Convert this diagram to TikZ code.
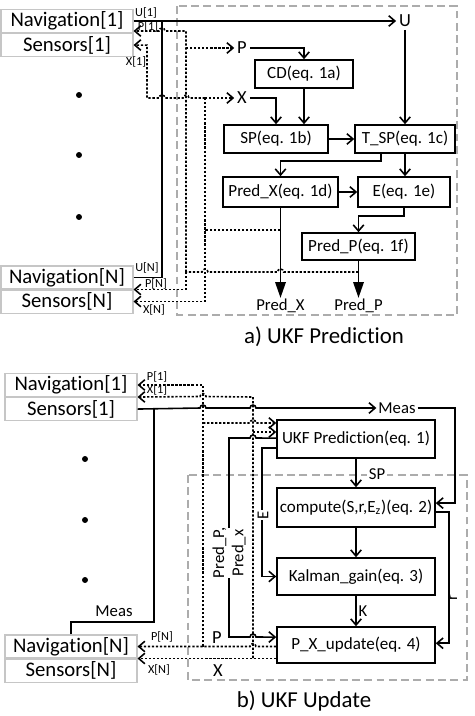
\documentclass[tikz,border=0pt]{standalone}
\usepackage{fontspec}
\setmainfont{Carlito}[Ligatures=NoCommon]
\usetikzlibrary{positioning}
\usetikzlibrary{arrows.meta}

% small hop over a crossing line
\newcommand{\hopR}{arc[start angle=180,end angle=0,radius=1.7pt]}
\newcommand{\hopL}{arc[start angle=0,end angle=180,radius=1.7pt]}

\tikzset{
  blk/.style={draw, line width=0.9pt, minimum height=0.56cm, inner sep=1pt, font=\fontsize{9.7}{11}\selectfont},
  navbox/.style={draw=gray!45, line width=0.6pt, minimum width=2.64cm, minimum height=0.46cm, inner sep=0pt, font=\fontsize{11.8}{13}\selectfont},
  ln/.style={line width=0.9pt},
  arr/.style={ln, -{Straight Barb[length=3.5pt,width=6pt]}},
  big/.style={ln, -{Triangle[length=9pt,width=6pt]}},
  fb/.style={line width=0.9pt, dash pattern=on 1.3pt off 1pt},
  fbarr/.style={fb, -{Straight Barb[length=3.5pt,width=6pt]}},
  frame/.style={draw=gray!65, line width=0.6pt, dash pattern=on 4.5pt off 2.5pt},
  tag/.style={font=\fontsize{7}{8}\selectfont, inner sep=0.5pt},
  lbl/.style={font=\fontsize{9.5}{11}\selectfont, inner sep=1pt},
  sig/.style={font=\fontsize{10.5}{12}\selectfont, inner sep=1.5pt},
  dot/.style={circle, fill, inner sep=0pt, minimum size=3.4pt},
}

\begin{document}
\begin{tikzpicture}[x=0.02cm,y=0.02cm]
\useasboundingbox (0,0) rectangle (474,-716);

%%% a) UKF prediction
\draw[frame] (177,-6) rectangle (457,-315);
\node[navbox] (nav1) at (67,-21) {Navigation[1]};
\node[navbox, below=0pt of nav1] (sen1) {Sensors[1]};
\node[navbox] (navN) at (67,-277.5) {Navigation[N]};
\node[navbox, below=0pt of navN] (senN) {Sensors[N]};
\node[dot] (da1) at (79,-95) {};
\node[dot] (da2) at (79,-155) {};
\node[dot] (da3) at (79,-217) {};

\node[sig] (ua) at (405,-21) {U};
\node[sig] (pa) at (242,-48) {P};
\node[sig] (xa) at (242,-98) {X};
\node[blk, minimum width=1.96cm] (cd) at (304,-74) {CD(eq. 1a)};
\node[blk, minimum width=2.08cm] (sp) at (276,-139) {SP(eq. 1b)};
\node[blk, minimum width=2cm] (tsp) at (405,-139) {T\_SP(eq. 1c)};
\node[blk, minimum width=2.3cm, minimum height=0.6cm] (predx) at (280.5,-192) {Pred\_X(eq. 1d)};
\node[blk, minimum width=1.84cm, minimum height=0.6cm] (e) at (404,-192) {E(eq. 1e)};
\node[blk, minimum width=2.26cm, minimum height=0.54cm] (predp) at (358.5,-246.5) {Pred\_P(eq. 1f)};
\node[lbl, inner sep=0.5pt] (outx) at (280.5,-306) {Pred\_X};
\node[lbl, inner sep=0.5pt] (outp) at (358.5,-306) {Pred\_P};
\node[font=\fontsize{13}{15}\selectfont] (capa) at (324,-337) {a) UKF Prediction};

% U
\coordinate (uj) at (162,-21);
\draw[arr] (nav1.east) -- (ua.west);
\draw[ln] (navN.east) -| (uj);
\draw[arr] (ua.south) -- (tsp.north);
% blocks
\draw[arr] (pa.east) -| (cd.north);
\draw[arr] (xa.east) -| (sp.north);
\draw[arr] (cd.south) -- (cd.south |- sp.north);
\draw[arr] (sp) -- (tsp);
\draw[arr] ([xshift=-0.48cm]tsp.south) -- ++(0,-7) -| (predx.north);
\draw[arr] (tsp.south) -- (tsp.south |- e.north);
\draw[arr] (predx) -- (e);
\draw[arr] (e.south) -- ++(0,-8) -| (predp.north);
\draw[big] (predx.south) -- (outx.north);
\draw[big] (predp.south) -- (outp.north);

% feedback P
\coordinate (pj) at (186,-272);
\draw[fb] (predp.south |- pj) -- (283.5,-272) \hopL -- (208,-272) \hopL -- (pj);
\draw[fbarr] (pj) -- (186,-31) -- (165,-31) \hopL -- (nav1.east |- 0,-31);
\draw[fbarr] (pa.west -| pj) -- (pa.west);
\draw[fbarr] (pj) |- (navN.south east);
% feedback X
\coordinate (xj) at (205,-98);
\draw[fb] (predx.south |- 0,-230) -- (xj |- 0,-230);
\draw[fbarr] (xj) -- (xj |- senN.east) -- (senN.east);
\draw[fbarr] (xj) -- (189,-98) \hopL -- (165,-98) \hopL -- (147,-98) |- (sen1.east);
\draw[fbarr] (xj) -- (xa.west);

\node[tag] (tu1) at (146,-13) {U[1]};
\node[tag] (tp1) at (148,-27) {P[1]};
\node[tag] (tx1) at (136,-62) {X[1]};
\node[tag] (tuN) at (147,-268) {U[N]};
\node[tag] (tpN) at (156,-284) {P[N]};
\node[tag] (txN) at (154,-310) {X[N]};

%%% b) UKF update
\draw[frame] (188,-475) rectangle (467,-680);
\node[navbox] (nav1b) at (71,-385) {Navigation[1]};
\node[navbox, below=0pt of nav1b] (sen1b) {Sensors[1]};
\node[navbox] (navNb) at (71,-646.5) {Navigation[N]};
\node[navbox, below=0pt of navNb] (senNb) {Sensors[N]};
\node[dot] (db1) at (85,-459) {};
\node[dot] (db2) at (85,-520) {};
\node[dot] (db3) at (85,-580) {};

\node[blk, minimum width=3.16cm, minimum height=0.76cm] (ukf) at (356,-439) {UKF Prediction(eq. 1)};
\node[blk, minimum width=3.16cm, minimum height=0.78cm] (comp) at (356,-507.5) {compute(S,r,E\textsubscript{z})(eq. 2)};
\node[blk, minimum width=3.16cm, minimum height=0.74cm] (kal) at (356,-576.5) {Kalman\_gain(eq. 3)};
\node[blk, minimum width=3.16cm, minimum height=0.72cm] (upd) at (356,-645) {P\_X\_update(eq. 4)};
\node[lbl] (measb) at (397,-408) {Meas};
\node[lbl] (measn) at (114,-611) {Meas};
\node[font=\fontsize{13}{15}\selectfont] (capb) at (304,-701) {b) UKF Update};

% chain
\draw[arr] (ukf.south) -- (comp.north);
\node[lbl, fill=white] (spl) at (377,-474) {SP};
\draw[arr] (comp) -- (kal);
\draw[arr] (kal) -- (upd) node[midway, right, lbl] (kl) {K};
% measurements
\coordinate (mj) at (154,-408);
\draw[arr] (sen1b.east) -- (200,-408) \hopR -- (250,-408) \hopR -- (measb.west);
\draw[ln] (navNb.north) |- (mj |- 0,-622) -- (mj);
\draw[arr] (measb.east) -- (455,-408) |- ([yshift=2.5pt]comp.east);
\draw[arr] ([yshift=-2.5pt]comp.east) -- ++(13,0) |- ([yshift=1pt]upd.east);
\node[lbl, rotate=90] (rl) at (453,-598) {r};
% prediction outputs
\draw[arr] ([yshift=0.5pt]ukf.west) -- (256,-438) \hopL -- (229,-438) -- (229,-637) -- (250,-637) \hopR -- ([yshift=4.5pt]upd.west);
\node[lbl, rotate=90, fill=white, align=center, inner sep=0pt] (predl) at (229,-553) {Pred\_P,\\Pred\_x};
\draw[arr] ([yshift=-5pt]ukf.west) -- ++(-14,0) |- (kal.west);
\node[lbl, rotate=90, fill=white, inner sep=0.5pt] (el) at (263,-515) {E};

% feedback P
\coordinate (pjb) at (203,-646.5);
\draw[fbarr] (upd.west |- navNb.east) -- (256,-646.5) \hopL -- (navNb.east);
\draw[fbarr] (pjb) |- (nav1b.east);
\draw[fbarr] (pjb |- 0,-423) -- (250,-423) \hopR -- (ukf.west |- 0,-423);
% feedback X
\coordinate (xjb) at (253,-658);
\draw[fbarr] (upd.west |- navNb.south east) -- (navNb.south east);
\draw[fbarr] (xjb) -- (xjb |- nav1b.south east) -- (206,-396.5) \hopL -- (nav1b.south east);
\draw[fbarr] (xjb |- 0,-432) -- (ukf.west |- 0,-432);

\node[sig] (pl) at (217,-638) {P};
\node[sig] (xl) at (218,-671) {X};
\node[tag] (tp1b) at (157,-377) {P[1]};
\node[tag] (tx1b) at (157,-390) {X[1]};
\node[tag] (tpNb) at (162,-637) {P[N]};
\node[tag] (txNb) at (159,-670) {X[N]};
\end{tikzpicture}
\end{document}
